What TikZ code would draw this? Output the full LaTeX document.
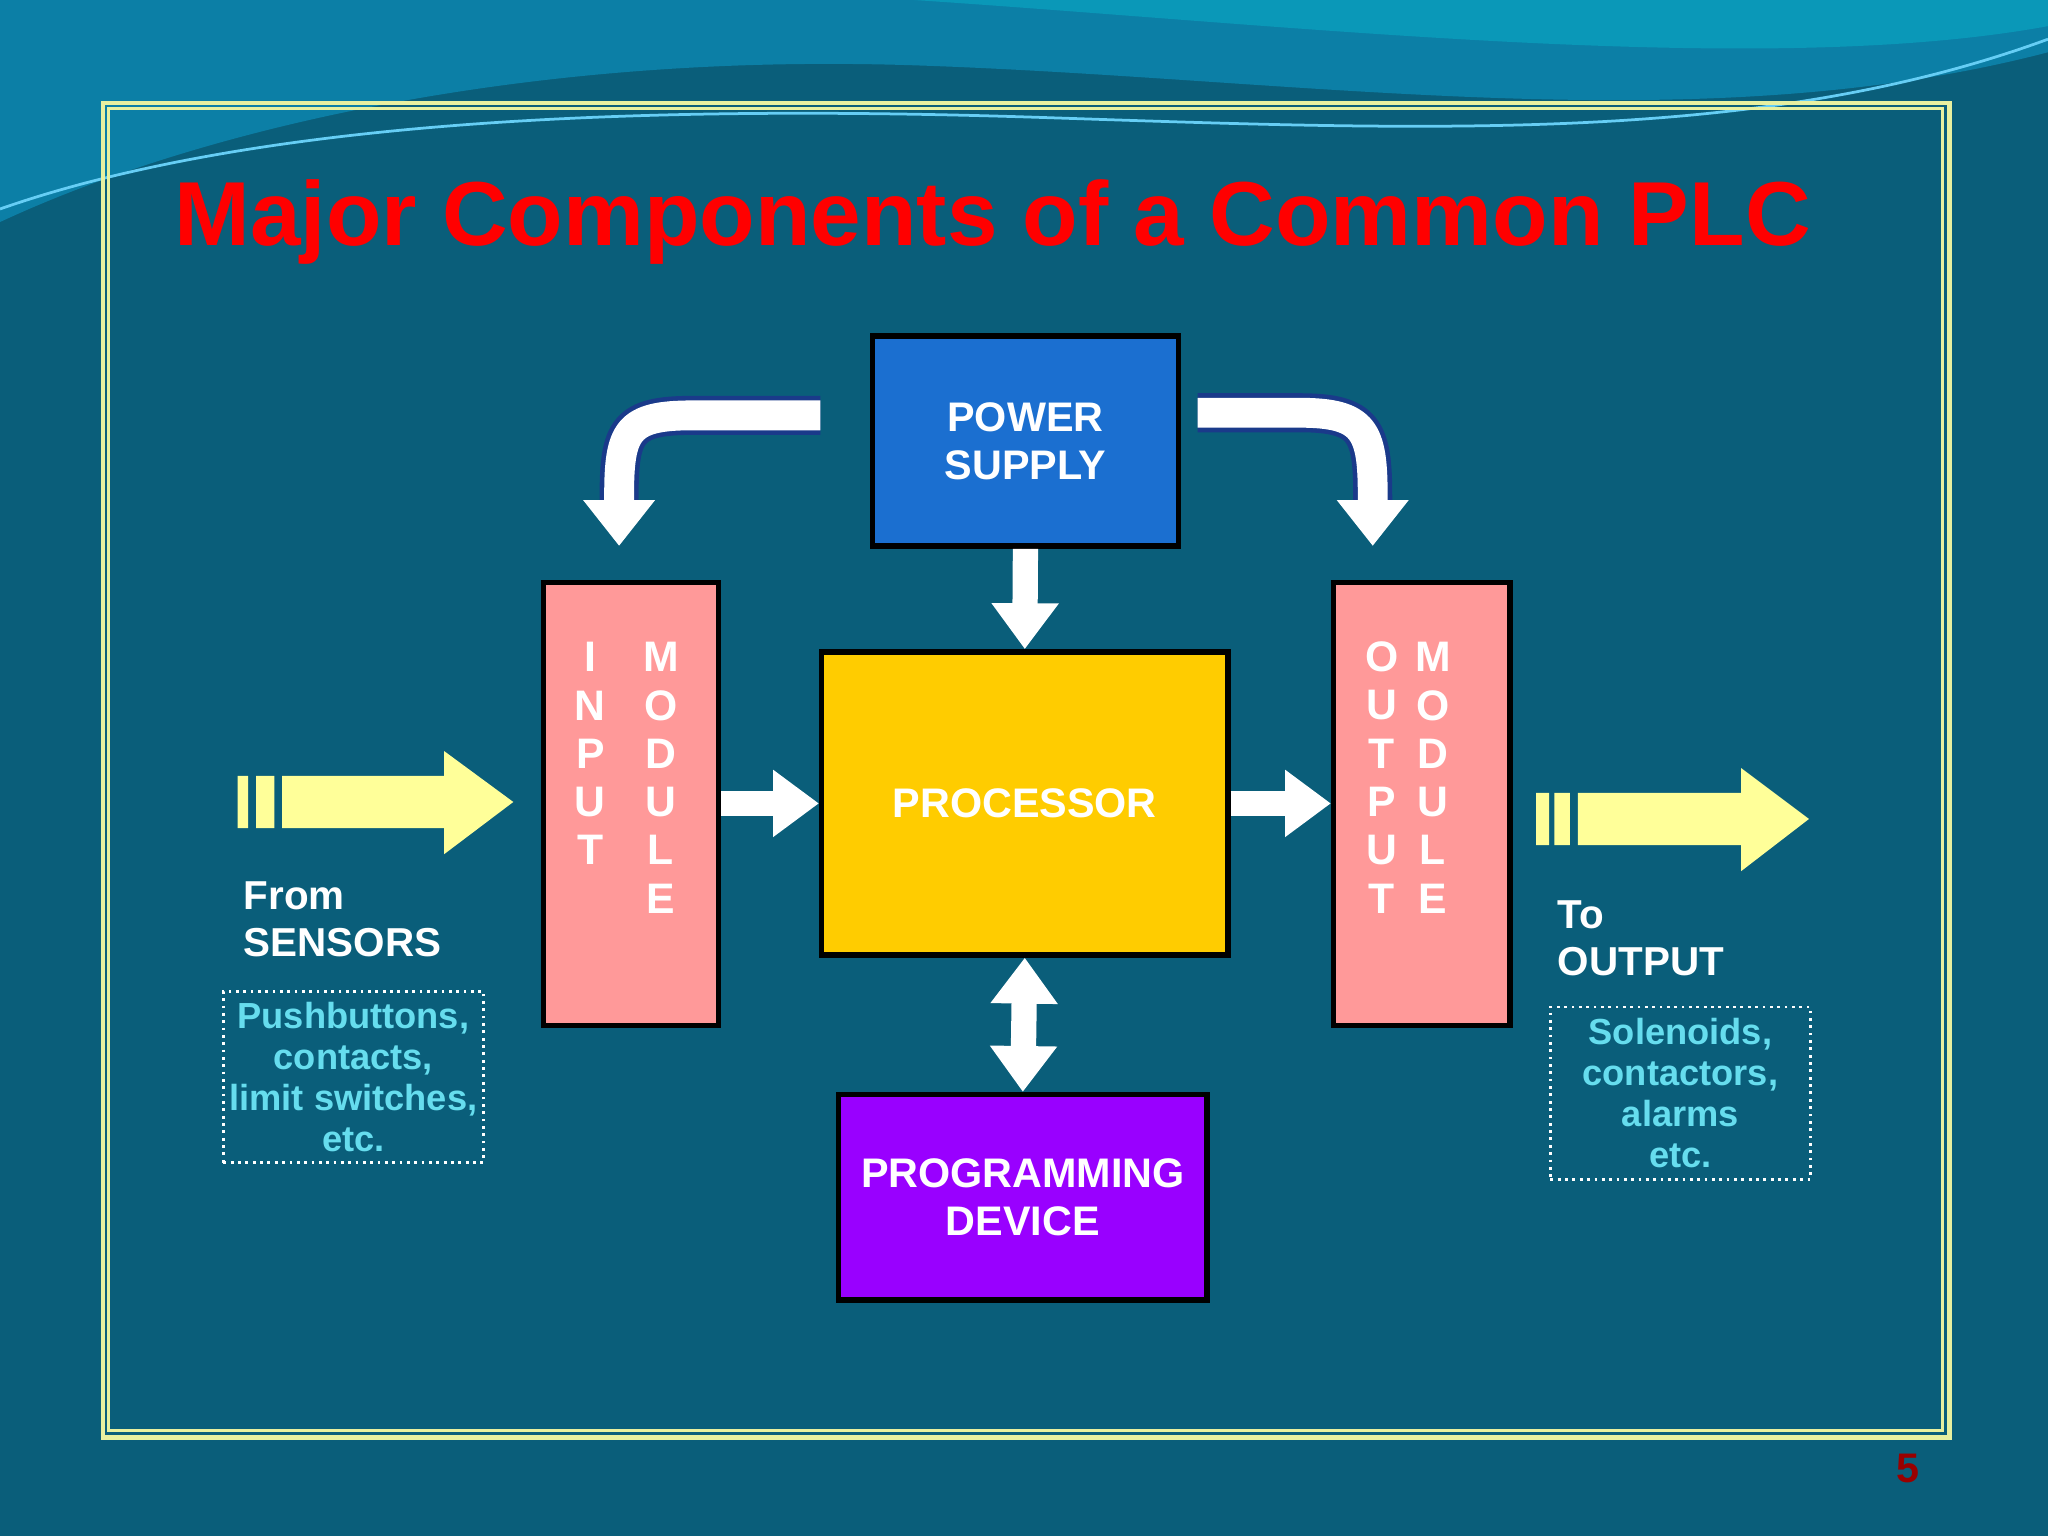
\documentclass[tikz,border=0pt]{standalone}
\usepackage{fontspec}
\setmainfont{Liberation Sans}
\usetikzlibrary{arrows.meta}
\definecolor{bg}{HTML}{0A5E7A}
\definecolor{wave}{HTML}{0C7FA6}
\definecolor{frame}{HTML}{E8F0A0}
\definecolor{psu}{HTML}{1B6FD0}
\definecolor{proc}{HTML}{FFCC00}
\definecolor{mod}{HTML}{FF9999}
\definecolor{prog}{HTML}{9900FF}
\definecolor{ylw}{HTML}{FFFF99}
\definecolor{cyantext}{HTML}{66DDEE}
\definecolor{outl}{HTML}{1A3A8A}
\begin{document}
\begin{tikzpicture}[x=0.1mm,y=-0.1mm,
  box/.style={draw=black,line width=1.2pt,font=\bfseries\fontsize{9}{10.5}\selectfont,text=white,align=center,inner sep=0pt},
  let/.style={font=\bfseries\fontsize{9.3}{11}\selectfont,text=white},
  warrow/.style={draw=white,line width=5.5pt,-{Triangle[width=14pt,length=10pt]}},
  side/.style={font=\bfseries\fontsize{8.8}{10.3}\selectfont,text=white,align=left,anchor=north west,inner sep=0pt},
  dbox/.style={draw=white,densely dotted,line width=0.6pt,font=\bfseries\fontsize{7.9}{8.9}\selectfont,text=cyantext,align=center,inner sep=0pt}]
\fill[bg] (0,0) rectangle (1568,1176);
\useasboundingbox (0,0) rectangle (1568,1176);
% top waves
\fill[wave] (0,0) -- (1568,0) -- (1568,40) .. controls (1300,110) and (1000,60) .. (700,50) .. controls (400,40) and (150,100) .. (0,170) -- cycle;
\fill[wave!80!cyan] (700,0) -- (1568,0) -- (1568,20) .. controls (1350,60) and (1000,20) .. (700,0);
\draw[cyan!60,line width=0.6pt] (0,160) .. controls (200,90) and (500,80) .. (800,90) .. controls (1100,100) and (1350,110) .. (1568,30);
% frame
\node[draw=frame,line width=1pt,minimum width=141.4mm,minimum height=102.2mm,anchor=north west,inner sep=0] (fo) at (77,77) {};
\node[draw=frame,line width=0.6pt,minimum width=140.4mm,minimum height=101.2mm,anchor=north west,inner sep=0] (fi) at (82,82) {};
% title
\node[text=red,font=\bfseries\fontsize{19.8}{22}\selectfont] (title) at (760,170) {Major Components of a Common PLC};
% boxes
\node[box,fill=psu,minimum width=23.4mm,minimum height=16.1mm,anchor=north west] (psu) at (666,255) {POWER\\SUPPLY};
\node[box,fill=proc,minimum width=31.1mm,minimum height=23.2mm,anchor=north west] (proc) at (627,497) {PROCESSOR};
\node[box,fill=mod,minimum width=13.4mm,minimum height=33.9mm,anchor=north west] (inm) at (414,444) {};
\node[box,fill=mod,minimum width=13.5mm,minimum height=33.9mm,anchor=north west] (outm) at (1019,444) {};
\node[box,fill=prog,minimum width=28.2mm,minimum height=15.7mm,anchor=north west] (prog) at (640,836) {PROGRAMMING\\DEVICE};
% letters
\foreach \l [count=\i from 0] in {I,N,P,U,T} \node[let] (il\i) at (452,503+37*\i) {\l};
\foreach \l [count=\i from 0] in {M,O,D,U,L,E} \node[let] (im\i) at (506,503+37*\i) {\l};
\foreach \l [count=\i from 0] in {O,U,T,P,U,T} \node[let] (ol\i) at (1058,503+37*\i) {\l};
\foreach \l [count=\i from 0] in {M,O,D,U,L,E} \node[let] (om\i) at (1097,503+37*\i) {\l};
% straight arrows
\draw[warrow] (psu.south) -- (proc.north);
\draw[warrow] (inm.east |- proc.west) -- (proc.west);
\draw[warrow] (proc.east) -- (outm.west |- proc.east);
\draw[draw=white,line width=5.5pt,{Triangle[width=14pt,length=10pt]}-{Triangle[width=14pt,length=10pt]}] (proc.south) -- (prog.north);
% curved arrows
\coordinate (l0) at (628,318); \coordinate (l1) at (474,418);
\coordinate (r0) at (917,316); \coordinate (r1) at (1051,418);
\draw[outl,line width=8.5pt] (l0) -- (530,318) .. controls (480,318) and (474,330) .. (474,380) -- (474,395);
\draw[white,line width=6.5pt,-{Triangle[width=15pt,length=10pt]}] (l0) -- (530,318) .. controls (480,318) and (474,330) .. (474,380) -- (l1);
\draw[outl,line width=8.5pt] (r0) -- (995,316) .. controls (1045,316) and (1051,330) .. (1051,380) -- (1051,395);
\draw[white,line width=6.5pt,-{Triangle[width=15pt,length=10pt]}] (r0) -- (995,316) .. controls (1045,316) and (1051,330) .. (1051,380) -- (r1);
% yellow arrows
\fill[ylw] (182,594) rectangle (190,634) (196,594) rectangle (210,634);
\fill[ylw] (216,594) -- (340,594) -- (340,575) -- (393,614) -- (340,654) -- (340,634) -- (216,634) -- cycle;
\fill[ylw] (1176,607) rectangle (1186,647) (1190,607) rectangle (1202,647);
\fill[ylw] (1208,607) -- (1333,607) -- (1333,588) -- (1385,627) -- (1333,667) -- (1333,647) -- (1208,647) -- cycle;
% side texts
\node[side] (from) at (186,674) {From\\SENSORS};
\node[side] (to) at (1192,689) {To\\OUTPUT};
\node[dbox,minimum width=19.9mm,minimum height=13.1mm,anchor=north west] (sens) at (170,758) {Pushbuttons,\\contacts,\\limit switches,\\etc.};
\node[dbox,minimum width=19.9mm,minimum height=13.2mm,anchor=north west] (outs) at (1186,770) {Solenoids,\\contactors,\\alarms\\etc.};
\node[text=red!60!black,font=\bfseries\fontsize{9}{10}\selectfont] (pg) at (1461,1124) {5};
\end{tikzpicture}
\end{document}
